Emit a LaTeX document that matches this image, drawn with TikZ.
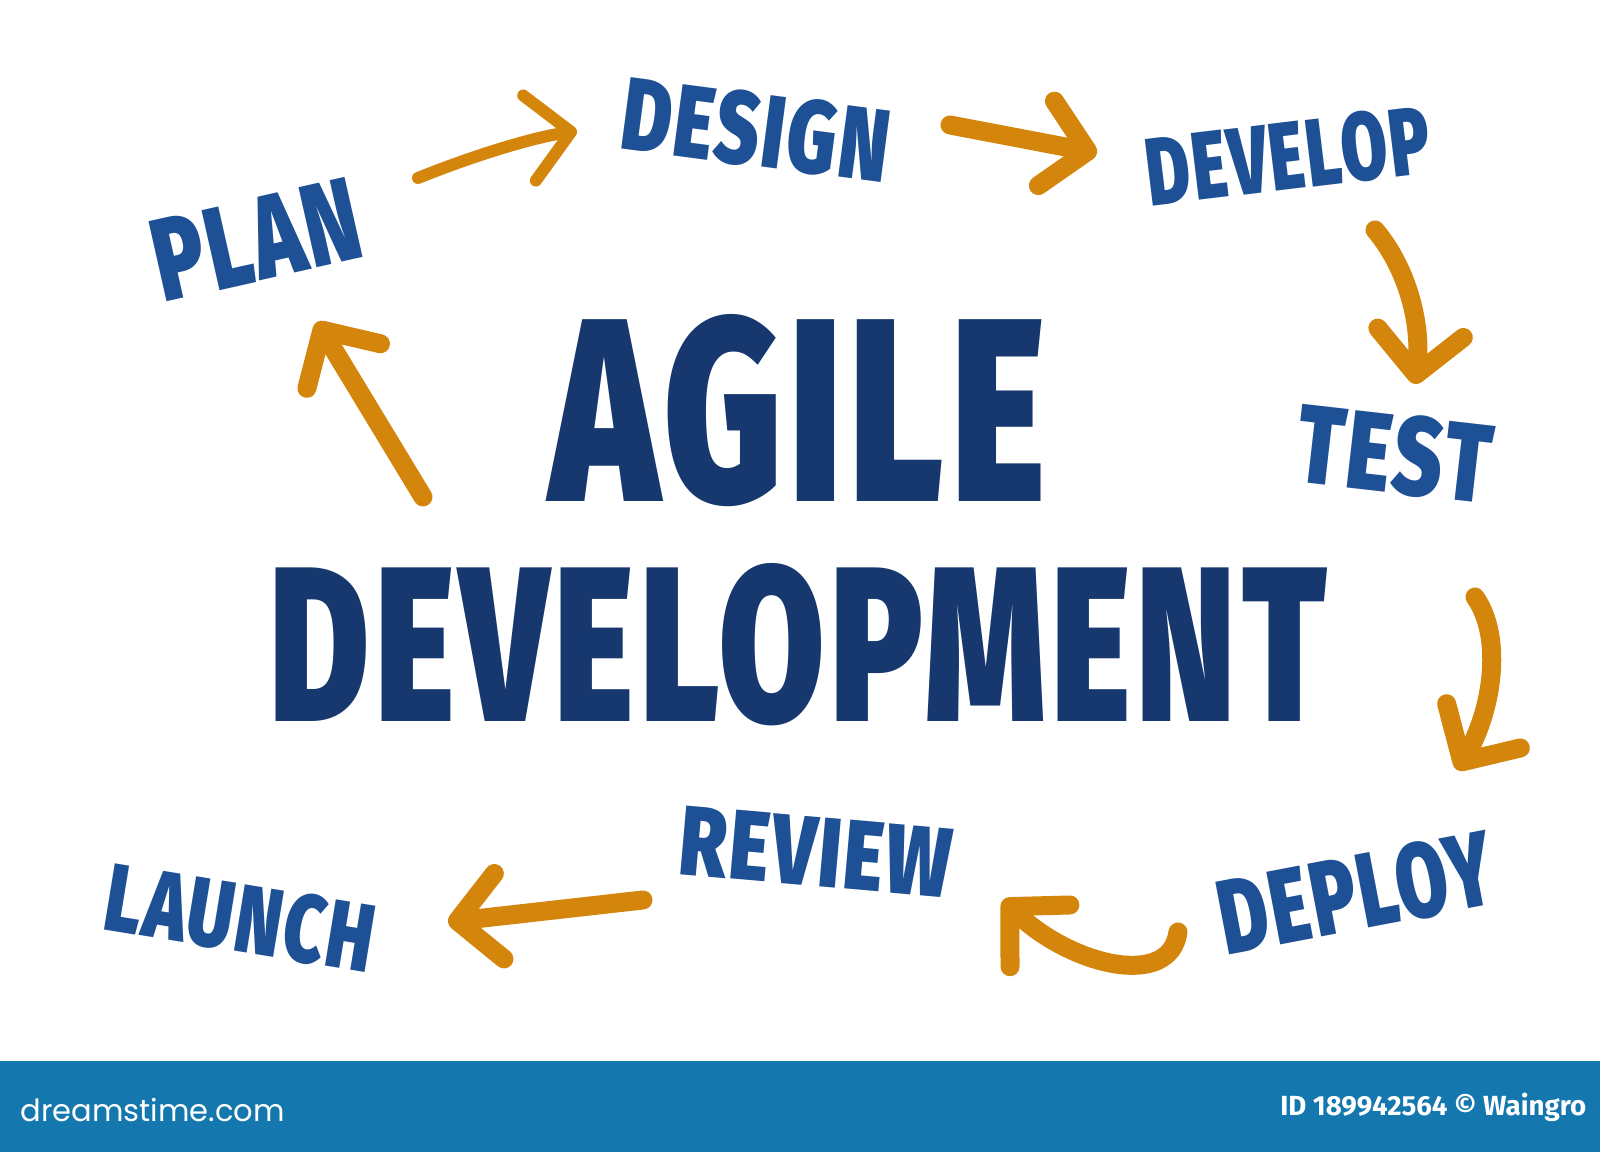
\documentclass[tikz,border=0pt]{standalone}
\usepackage{fontspec}
\usepackage{graphicx}
\usetikzlibrary{arrows.meta,positioning}
\IfFontExistsTF{Fira Sans Heavy}
  {\newfontfamily\stampfont[LetterSpace=4]{Fira Sans Heavy}}
  {\IfFontExistsTF{Fira Sans Black}
    {\newfontfamily\stampfont[LetterSpace=4]{Fira Sans Black}}
    {\newfontfamily\stampfont[UprightFont={* Bold}, LetterSpace=4]{Fira Sans}}}
\newfontfamily\logofont{Poppins}
\newfontfamily\creditfont{Fira Sans}
\definecolor{navy}{HTML}{16386E}
\definecolor{inkblue}{HTML}{1E5096}
\definecolor{ochre}{HTML}{D4850C}
\definecolor{barblue}{HTML}{1478AF}
\newcommand{\stampword}[3]{\resizebox{#1mm}{#2mm}{\stampfont #3}}

\begin{document}
\begin{tikzpicture}[x=0.1mm, y=-0.1mm,
  title/.style={inner sep=0pt, text=navy},
  phase/.style={inner sep=0pt, text=inkblue},
  flow/.style={draw=ochre, line width=1.9mm, line cap=round,
    -{Straight Barb[length=4.2mm, width=8.6mm, round]}}]
\fill[white] (0,0) rectangle (1600,1152);
\useasboundingbox (0,0) rectangle (1600,1152);
% title
\node[title] (agile) at (798,411) {\stampword{49.5}{18.7}{AGILE}};
\node[title] (development) at (798,645) {\stampword{105.7}{15.8}{DEVELOPMENT}};
% cycle
\node[phase, rotate=12.7] (plan) at (256,240) {\stampword{20.9}{8.2}{PLAN}};
\node[phase, rotate=-7.5] (design) at (756,130) {\stampword{26.8}{7.4}{DESIGN}};
\node[phase, rotate=6.9] (develop) at (1288,156) {\stampword{28.5}{6.9}{DEVELOP}};
\node[phase, rotate=-6.5] (test) at (1395,454) {\stampword{19.5}{8.0}{TEST}};
\node[phase, rotate=10.8] (deploy) at (1356,893) {\stampword{27.7}{7.6}{DEPLOY}};
\node[phase, rotate=-5] (review) at (816,852) {\stampword{27.2}{6.9}{REVIEW}};
\node[phase, rotate=-9.3] (launch) at (240,918) {\stampword{27.0}{6.9}{LAUNCH}};
% brush arrows
\coordinate (p1) at (418,178); \coordinate (d0) at (577,131);
\coordinate (d1) at (950,125); \coordinate (v0) at (1097,153);
\coordinate (v1) at (1375,230); \coordinate (t0) at (1415,384);
\coordinate (t1) at (1475,597); \coordinate (y0) at (1457,770);
\coordinate (y1) at (1178,932); \coordinate (r0) at (1003,900);
\coordinate (r1) at (643,900); \coordinate (l0) at (448,922);
\coordinate (l1) at (423,497); \coordinate (q0) at (317,322);
\draw[flow, line width=1.2mm] (p1) .. controls (470,157) and (530,138) .. (d0);
\draw[flow] (d1) -- (v0);
\draw[flow] (v1) .. controls (1405,265) and (1422,320) .. (t0);
\draw[flow] (t1) .. controls (1505,640) and (1490,715) .. (y0);
\draw[flow] (y1) .. controls (1170,990) and (1070,965) .. (r0);
\draw[flow] (r1) -- (l0);
\draw[flow] (l1) -- (q0);
% footer
\fill[barblue] (0,1061) rectangle (1600,1152);
\node[inner sep=0pt, text=white, anchor=west] (site) at (20,1110)
  {\resizebox{26.4mm}{!}{\logofont dreamstime.com}};
\node[inner sep=0pt, text=white, anchor=east] (credit) at (1587,1107)
  {\resizebox{30.6mm}{!}{\creditfont\bfseries ID 189942564 © Waingro}};
\end{tikzpicture}
\end{document}
